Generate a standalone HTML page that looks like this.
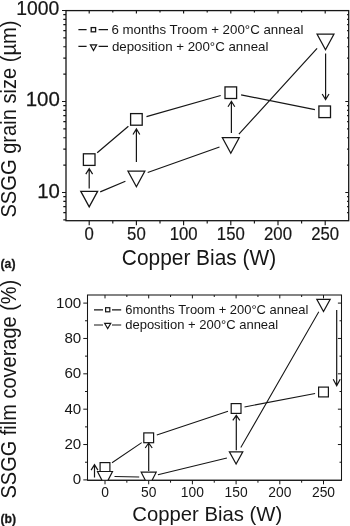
<!DOCTYPE html><html><head><meta charset="utf-8"><title>SSGG grain size and film coverage vs Copper Bias</title>
<style>html,body{margin:0;padding:0;background:#fff}svg{display:block}text{font-family:"Liberation Sans",Arial,sans-serif;fill:#161616}</style></head><body>
<svg width="350" height="526" viewBox="0 0 350 526">
<rect width="350" height="526" fill="#fff"/>
<rect x="66.0" y="10.6" width="282.70" height="210.10" stroke="#161616" fill="none" stroke-width="1.3"/>
<path d="M63.3,219.89H66.0 M63.3,212.69H66.0 M348.7,212.69h-1.6 M63.3,206.60H66.0 M348.7,206.60h-1.6 M63.3,201.32H66.0 M348.7,201.32h-1.6 M63.3,196.66H66.0 M348.7,196.66h-1.6 M62.0,192.50H66.0 M348.7,192.50h-3.4 M63.3,165.11H66.0 M348.7,165.11h-1.6 M63.3,149.08H66.0 M348.7,149.08h-1.6 M63.3,137.71H66.0 M348.7,137.71h-1.6 M63.3,128.89H66.0 M348.7,128.89h-1.6 M63.3,121.69H66.0 M348.7,121.69h-1.6 M63.3,115.60H66.0 M348.7,115.60h-1.6 M63.3,110.32H66.0 M348.7,110.32h-1.6 M63.3,105.66H66.0 M348.7,105.66h-1.6 M62.0,101.50H66.0 M348.7,101.50h-3.4 M63.3,74.11H66.0 M348.7,74.11h-1.6 M63.3,58.08H66.0 M348.7,58.08h-1.6 M63.3,46.71H66.0 M348.7,46.71h-1.6 M63.3,37.89H66.0 M348.7,37.89h-1.6 M63.3,30.69H66.0 M348.7,30.69h-1.6 M63.3,24.60H66.0 M348.7,24.60h-1.6 M63.3,19.32H66.0 M348.7,19.32h-1.6 M63.3,14.66H66.0 M348.7,14.66h-1.6 M62.0,10.50H66.0 M89.20,220.7v4.5 M89.20,10.6v3.0 M112.80,220.7v2.7 M112.80,10.6v2.0 M136.40,220.7v4.5 M136.40,10.6v3.0 M160.00,220.7v2.7 M160.00,10.6v2.0 M183.60,220.7v4.5 M183.60,10.6v3.0 M207.20,220.7v2.7 M207.20,10.6v2.0 M230.80,220.7v4.5 M230.80,10.6v3.0 M254.40,220.7v2.7 M254.40,10.6v2.0 M278.00,220.7v4.5 M278.00,10.6v3.0 M301.60,220.7v2.7 M301.60,10.6v2.0 M325.20,220.7v4.5 M325.20,10.6v3.0" stroke="#161616" fill="none" stroke-width="1.15"/>
<text transform="translate(59.2,14.8) scale(0.93,1)" font-size="20.8" text-anchor="end" stroke="#161616" stroke-width="0.25">1000</text>
<text transform="translate(59.9,106.4) scale(0.985,1)" font-size="20.8" text-anchor="end" stroke="#161616" stroke-width="0.25">100</text>
<text transform="translate(59.9,198.4) scale(0.975,1)" font-size="20.9" text-anchor="end" stroke="#161616" stroke-width="0.25">10</text>
<text transform="translate(89.2,240.2) scale(0.92,1)" font-size="18.2" text-anchor="middle" stroke="#161616" stroke-width="0.2">0</text>
<text transform="translate(136.4,240.2) scale(0.92,1)" font-size="18.2" text-anchor="middle" stroke="#161616" stroke-width="0.2">50</text>
<text transform="translate(183.6,240.2) scale(0.92,1)" font-size="18.2" text-anchor="middle" stroke="#161616" stroke-width="0.2">100</text>
<text transform="translate(230.8,240.2) scale(0.92,1)" font-size="18.2" text-anchor="middle" stroke="#161616" stroke-width="0.2">150</text>
<text transform="translate(278.0,240.2) scale(0.92,1)" font-size="18.2" text-anchor="middle" stroke="#161616" stroke-width="0.2">200</text>
<text transform="translate(325.2,240.2) scale(0.92,1)" font-size="18.2" text-anchor="middle" stroke="#161616" stroke-width="0.2">250</text>
<text transform="translate(199.0,265) scale(0.985,1)" font-size="21.2" text-anchor="middle">Copper Bias (W)</text>
<text transform="translate(16.2,119.0) rotate(-90) scale(0.932,1)" font-size="21.6" text-anchor="middle">SSGG grain size (µm)</text>
<text transform="translate(0.5,267.6) scale(0.96,1)" font-size="12.8" text-anchor="start" font-weight="bold" stroke="#161616" stroke-width="0.25">(a)</text>
<path d="M97.2,152.8L128.4,126.2 M146.5,116.6L220.7,95.5 M241.1,94.8L314.9,109.7" stroke="#161616" fill="none" stroke-width="1.2"/>
<path d="M100.2,191.9L125.4,181.2 M147.7,172.5L219.5,147.0 M238.9,134.1L317.1,48.4" stroke="#161616" fill="none" stroke-width="1.2"/>
<rect x="83.4" y="153.8" width="11.6" height="11.6" fill="#fff" stroke="#161616" stroke-width="1.3"/>
<rect x="130.6" y="113.6" width="11.6" height="11.6" fill="#fff" stroke="#161616" stroke-width="1.3"/>
<rect x="225.0" y="86.9" width="11.6" height="11.6" fill="#fff" stroke="#161616" stroke-width="1.3"/>
<rect x="318.9" y="106.0" width="11.6" height="11.6" fill="#fff" stroke="#161616" stroke-width="1.3"/>
<path d="M80.8,191.4H97.6L89.2,206.9Z" fill="#fff" stroke="#161616" stroke-width="1.3"/>
<path d="M128.0,171.2H144.8L136.4,186.7Z" fill="#fff" stroke="#161616" stroke-width="1.3"/>
<path d="M222.4,137.7H239.2L230.8,153.2Z" fill="#fff" stroke="#161616" stroke-width="1.3"/>
<path d="M317.1,34.2H333.9L325.5,49.7Z" fill="#fff" stroke="#161616" stroke-width="1.3"/>
<path d="M89.2,188.6V168.6M85.8,174.1L89.2,168.6L92.6,174.1" stroke="#161616" fill="none" stroke-width="1.2"/>
<path d="M136.4,162.0V129.0M133.0,134.5L136.4,129.0L139.8,134.5" stroke="#161616" fill="none" stroke-width="1.2"/>
<path d="M231.4,133.0V101.3M228.0,106.8L231.4,101.3L234.8,106.8" stroke="#161616" fill="none" stroke-width="1.2"/>
<path d="M325.6,53.6V99.5M322.2,94.0L325.6,99.5L329.0,94.0" stroke="#161616" fill="none" stroke-width="1.2"/>
<path d="M78.4,29.6h8.2M98.6,29.6h9.4M78.4,46.4h8.2M98.6,46.4h9.4" stroke="#161616" fill="none" stroke-width="1.4"/>
<rect x="91.2" y="27.6" width="4.4" height="4.2" stroke="#161616" fill="none" stroke-width="1.3"/>
<path d="M90.4,44.9h6.2l-3.1,5.6z" stroke="#161616" fill="none" stroke-width="1.2"/>
<text transform="translate(111.4,34.2)" font-size="13.3" text-anchor="start">6 months Troom + 200°C anneal</text>
<text transform="translate(111.9,51)" font-size="13.3" text-anchor="start">deposition + 200°C anneal</text>
<rect x="87.5" y="295.0" width="254.00" height="185.30" stroke="#161616" fill="none" stroke-width="1.05"/>
<path d="M83.3,479.90H87.5 M85.0,462.22H87.5 M341.5,462.22h-2.0 M83.3,444.54H87.5 M341.5,444.54h-3.6 M85.0,426.86H87.5 M341.5,426.86h-2.0 M83.3,409.18H87.5 M341.5,409.18h-3.6 M85.0,391.50H87.5 M341.5,391.50h-2.0 M83.3,373.82H87.5 M341.5,373.82h-3.6 M85.0,356.14H87.5 M341.5,356.14h-2.0 M83.3,338.46H87.5 M341.5,338.46h-3.6 M85.0,320.78H87.5 M341.5,320.78h-2.0 M83.3,303.10H87.5 M341.5,303.10h-3.6 M105.00,480.3v4.0 M105.00,295.0v3.4 M126.85,480.3v2.4 M126.85,295.0v2.0 M148.70,480.3v4.0 M148.70,295.0v3.4 M170.55,480.3v2.4 M170.55,295.0v2.0 M192.40,480.3v4.0 M192.40,295.0v3.4 M214.25,480.3v2.4 M214.25,295.0v2.0 M236.10,480.3v4.0 M236.10,295.0v3.4 M257.95,480.3v2.4 M257.95,295.0v2.0 M279.80,480.3v4.0 M279.80,295.0v3.4 M301.65,480.3v2.4 M301.65,295.0v2.0 M323.50,480.3v4.0 M323.50,295.0v3.4" stroke="#161616" fill="none" stroke-width="1.0"/>
<text transform="translate(81.2,484.4) scale(1.08,1)" font-size="14.0" text-anchor="end">0</text>
<text transform="translate(81.2,449.0) scale(1.08,1)" font-size="14.0" text-anchor="end">20</text>
<text transform="translate(81.2,413.7) scale(1.08,1)" font-size="14.0" text-anchor="end">40</text>
<text transform="translate(81.2,378.3) scale(1.08,1)" font-size="14.0" text-anchor="end">60</text>
<text transform="translate(81.2,343.0) scale(1.08,1)" font-size="14.0" text-anchor="end">80</text>
<text transform="translate(81.2,307.6) scale(1.08,1)" font-size="14.0" text-anchor="end">100</text>
<text transform="translate(105.0,496.6) scale(0.91,1)" font-size="15.2" text-anchor="middle">0</text>
<text transform="translate(148.7,496.6) scale(0.91,1)" font-size="15.2" text-anchor="middle">50</text>
<text transform="translate(192.4,496.6) scale(0.91,1)" font-size="15.2" text-anchor="middle">100</text>
<text transform="translate(236.1,496.6) scale(0.91,1)" font-size="15.2" text-anchor="middle">150</text>
<text transform="translate(279.8,496.6) scale(0.91,1)" font-size="15.2" text-anchor="middle">200</text>
<text transform="translate(323.5,496.6) scale(0.91,1)" font-size="15.2" text-anchor="middle">250</text>
<text transform="translate(207.2,521)" font-size="20.3" text-anchor="middle">Copper Bias (W)</text>
<text transform="translate(16.2,389.1) rotate(-90) scale(0.901,1)" font-size="22.2" text-anchor="middle">SSGG film coverage (%)</text>
<text transform="translate(0.5,523.0) scale(0.96,1)" font-size="12.8" text-anchor="start" font-weight="bold" stroke="#161616" stroke-width="0.25">(b)</text>
<path d="M112.0,462.7L141.7,442.6 M156.8,435.1L228.0,411.2 M244.5,406.9L315.1,393.6" stroke="#161616" fill="none" stroke-width="1.05"/>
<path d="M114.5,476.5L139.2,476.9 M157.9,474.8L226.9,458.1 M240.8,447.6L318.8,311.7" stroke="#161616" fill="none" stroke-width="1.05"/>
<rect x="100.1" y="462.6" width="9.8" height="9.8" fill="#fff" stroke="#161616" stroke-width="1.2"/>
<rect x="143.8" y="432.9" width="9.8" height="9.8" fill="#fff" stroke="#161616" stroke-width="1.2"/>
<rect x="231.2" y="403.6" width="9.8" height="9.8" fill="#fff" stroke="#161616" stroke-width="1.2"/>
<rect x="318.6" y="387.1" width="9.8" height="9.8" fill="#fff" stroke="#161616" stroke-width="1.2"/>
<clipPath id="cb"><rect x="87.5" y="295.0" width="254.00" height="185.30"/></clipPath><g clip-path="url(#cb)">
<path d="M97.5,471.5H112.5L105.0,486.2Z" fill="#fff" stroke="#161616" stroke-width="1.2"/>
<path d="M141.2,472.2H156.2L148.7,486.9Z" fill="#fff" stroke="#161616" stroke-width="1.2"/>
<path d="M229.4,451.8H242.8L236.1,464.0Z" fill="#fff" stroke="#161616" stroke-width="1.2"/>
<path d="M316.8,299.4H330.2L323.5,311.6Z" fill="#fff" stroke="#161616" stroke-width="1.2"/>
</g>
<path d="M87.5,480.3H341.5" stroke="#161616" fill="none" stroke-width="1.05"/>
<path d="M94.5,477.5V464.6M91.1,470.1L94.5,464.6L97.9,470.1" stroke="#161616" fill="none" stroke-width="1.2"/>
<path d="M148.7,471.0V443.0M145.2,448.0L148.7,443.0L152.2,448.0" stroke="#161616" fill="none" stroke-width="1.2"/>
<path d="M236.3,450.3V415.4M232.8,420.4L236.3,415.4L239.8,420.4" stroke="#161616" fill="none" stroke-width="1.2"/>
<path d="M336.7,310.0V385.7M333.2,379.2L336.7,385.7L340.2,379.2" stroke="#161616" fill="none" stroke-width="1.2"/>
<path d="M94,309.8h9M112,309.8h9.2M94,325h9M112,325h9.2" stroke="#161616" fill="none" stroke-width="1.15"/>
<rect x="105.6" y="307.7" width="4.2" height="4.1" stroke="#161616" fill="none" stroke-width="1.2"/>
<path d="M104.6,323.4h6.2l-3.1,5.2z" stroke="#161616" fill="none" stroke-width="1.1"/>
<text transform="translate(125.2,314.0)" font-size="12.95" text-anchor="start">6months Troom + 200°C anneal</text>
<text transform="translate(125.2,329.4)" font-size="13.0" text-anchor="start">deposition + 200°C anneal</text>
</svg></body></html>
